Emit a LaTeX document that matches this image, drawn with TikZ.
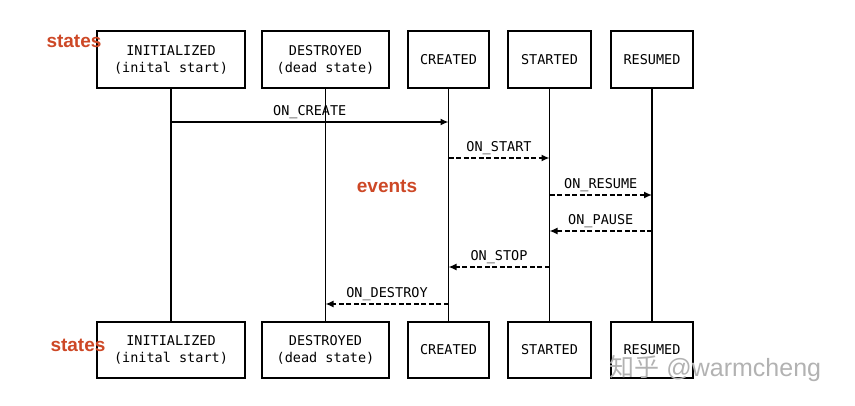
\documentclass[tikz,border=0pt]{standalone}
\usepackage{fontspec}
\setmainfont{Liberation Sans}
\setmonofont{DejaVu Sans Mono}
\newfontfamily\cjk{Noto Sans CJK SC}
\usetikzlibrary{arrows.meta}
\definecolor{lab}{RGB}{205,72,38}
\tikzset{x=1pt,y=-1pt,
 st/.style={draw,line width=1.6pt,inner sep=0pt,font=\ttfamily\fontsize{13.5}{17}\selectfont,align=center},
 life/.style={line width=1.8pt},
 ev/.style={line width=1.5pt,-{Latex[length=8pt,width=7pt]}},
 evd/.style={ev,dash pattern=on 5pt off 2.5pt},
 evl/.style={above,font=\ttfamily\fontsize{13.5}{15}\selectfont,inner sep=3pt},
 tag/.style={font=\bfseries\fontsize{19}{19}\selectfont,text=lab}}
\begin{document}
\begin{tikzpicture}
\useasboundingbox (0,0) rectangle (855,406);
\foreach \n/\t/\xa/\xb/\ya/\yb/\s in {I/{INITIALIZED\\(inital start)}/97/245/31/88/t, D/{DESTROYED\\(dead state)}/262/389/31/88/t, C/CREATED/408/489/31/88/t, S/STARTED/508/591/31/88/t, R/RESUMED/611/693/31/88/t,
 I/{INITIALIZED\\(inital start)}/97/245/322/378/b, D/{DESTROYED\\(dead state)}/262/389/322/378/b, C/CREATED/408/489/322/378/b, S/STARTED/508/591/322/378/b, R/RESUMED/611/693/322/378/b}
 {\node[st,minimum width=\xb-\xa,minimum height=\yb-\ya] (\n\s) at ({(\xa+\xb)/2},{(\ya+\yb)/2}) {\t};}
\foreach \n in {I,D,C,S,R}{\draw[life] (\n t) -- (\n b);}
\coordinate (a1) at (It.south|-0,122); \coordinate (b1) at (Ct.south|-0,122);
\coordinate (a2) at (Ct.south|-0,158); \coordinate (b2) at (St.south|-0,158);
\coordinate (a3) at (St.south|-0,195); \coordinate (b3) at (Rt.south|-0,195);
\coordinate (a4) at (Rt.south|-0,231); \coordinate (b4) at (St.south|-0,231);
\coordinate (a5) at (St.south|-0,267); \coordinate (b5) at (Ct.south|-0,267);
\coordinate (a6) at (Ct.south|-0,304); \coordinate (b6) at (Dt.south|-0,304);
\draw[ev] (a1) -- node[evl] (l1) {ON\_CREATE} (b1);
\draw[evd] (a2) -- node[evl] (l2) {ON\_START} (b2);
\draw[evd] (a3) -- node[evl] (l3) {ON\_RESUME} (b3);
\draw[evd] (a4) -- node[evl] (l4) {ON\_PAUSE} (b4);
\draw[evd] (a5) -- node[evl] (l5) {ON\_STOP} (b5);
\draw[evd] (a6) -- node[evl] (l6) {ON\_DESTROY} (b6);
\node[tag] (s1) at (74,41) {states};
\node[tag] (s2) at (78,345) {states};
\node[tag] (e1) at (387,186) {events};
\node[text=black!30,font=\fontsize{25}{25}\selectfont,anchor=west] (wm) at (606,369) {{\cjk 知乎} @warmcheng};
\end{tikzpicture}
\end{document}
